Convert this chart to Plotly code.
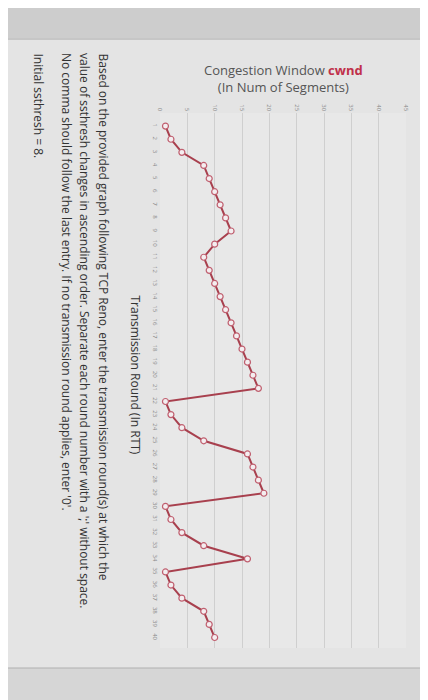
import plotly.graph_objects as go

rounds = list(range(1, 41))
cwnd = [1, 2, 4, 8, 9, 10, 11, 12, 13, 10,
        8, 9, 10, 11, 12, 13, 14, 15, 16, 17,
        18, 1, 2, 4, 8, 16, 17, 18, 19, 1,
        2, 4, 8, 16, 1, 2, 4, 8, 9, 10]
cwnd_ticks = [0, 5, 10, 15, 20, 25, 30, 35, 40, 45]

W, H = 428, 700
L, R, T, B = 152, 30, 105, 60
fig = go.Figure()
fig.add_trace(go.Scatter(
    x=cwnd, y=rounds, mode="lines+markers",
    line=dict(color="#a8404e", width=2),
    marker=dict(symbol="circle", size=6, color="#f4eef0",
                line=dict(color="#c06070", width=1.2)),
    showlegend=False, hoverinfo="skip"))

def px(x):
    return (x - L) / (W - L - R)
def py(y):
    return (H - B - y) / (H - T - B)

fig.update_layout(
    width=W, height=H,
    paper_bgcolor="#e4e4e4", plot_bgcolor="#e8e8e8",
    margin=dict(l=L, r=R, t=T, b=B),
    font=dict(family="Open Sans, DejaVu Sans", color="#555"),
    xaxis=dict(range=[0, 45], side="top", tickvals=cwnd_ticks,
               tickangle=90, tickfont=dict(size=6, color="#888"),
               showgrid=True, gridcolor="#cfcfcf", gridwidth=1,
               zeroline=False, showline=False),
    yaxis=dict(range=[40.8, 0], tickvals=rounds, tickangle=90,
               tickfont=dict(size=6, color="#888"),
               showgrid=False, zeroline=False, showline=False),
    shapes=[
        dict(type="rect", xref="paper", yref="paper", x0=px(-5), x1=px(W + 5), y0=py(30), y1=py(-5),
             line=dict(width=0), fillcolor="#cdcdcd", layer="below"),
        dict(type="line", xref="paper", yref="paper", x0=px(-5), x1=px(W + 5), y0=py(31), y1=py(31),
             line=dict(color="#a8a8a8", width=1)),
        dict(type="rect", xref="paper", yref="paper", x0=px(-5), x1=px(W + 5), y0=py(H + 5), y1=py(660),
             line=dict(width=0), fillcolor="#d6d6d6", layer="below"),
        dict(type="line", xref="paper", yref="paper", x0=px(-5), x1=px(W + 5), y0=py(660), y1=py(660),
             line=dict(color="#b0b0b0", width=1)),
    ],
)

def a(x, y, text, angle=0, size=12, color="#333", xa="center", ya="top"):
    return dict(x=px(x), y=py(y), xref="paper", yref="paper", text=text, textangle=angle,
                font=dict(size=size, color=color), showarrow=False, xanchor=xa, yanchor=ya)

ann = [
    a(275, 71, "Congestion Window <b><span style='color:#c0304a'>cwnd</span></b><br>(In Num of Segments)",
      0, 13, "#555", "center", "middle"),
    a(127, 285, "Transmission Round (In RTT)", 90),
    a(95, 43, "Based on the provided graph following TCP Reno, enter the transmission round(s) at which the", 90),
    a(77, 43, "value of ssthresh changes in ascending order. Separate each round number with a ';' without space.", 90),
    a(59, 43, "No comma should follow the last entry. If no transmission round applies, enter '0'.", 90),
    a(30, 43, "Initial ssthresh = 8.", 90),
]
fig.update_layout(annotations=ann)
fig.write_html("out.html")
